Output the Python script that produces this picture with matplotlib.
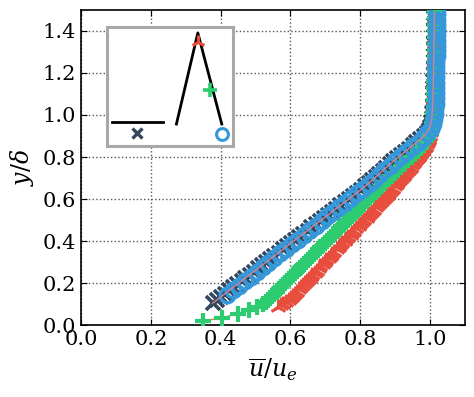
import matplotlib
matplotlib.use("Agg")
import matplotlib.pyplot as plt

plt.rcParams['font.family'] = ['DejaVu Serif']
plt.rcParams['mathtext.fontset'] = 'dejavuserif'

# ---- data ----
navy_y = [0.105, 0.120, 0.135, 0.150, 0.165, 0.180, 0.195, 0.210, 0.225, 0.240, 0.255, 0.270,
          0.285, 0.300, 0.315, 0.330, 0.345, 0.360, 0.375, 0.390, 0.405, 0.420, 0.435, 0.450,
          0.465, 0.480, 0.495, 0.510, 0.525, 0.540, 0.555, 0.570, 0.585, 0.600, 0.615, 0.630,
          0.645, 0.660, 0.675, 0.690, 0.705, 0.720, 0.735, 0.750, 0.765, 0.780, 0.795, 0.810,
          0.825, 0.840, 0.855, 0.870, 0.885, 0.900, 0.915, 0.930, 0.945, 0.965, 0.985,
          1.01, 1.04, 1.07, 1.10, 1.13, 1.16, 1.19, 1.22, 1.25, 1.28, 1.31, 1.34, 1.37, 1.40,
          1.43, 1.46, 1.49]
navy_x = [0.377, 0.389, 0.401, 0.412, 0.424, 0.436, 0.448, 0.460, 0.471, 0.483, 0.495, 0.507,
          0.519, 0.530, 0.542, 0.554, 0.566, 0.578, 0.589, 0.601, 0.613, 0.625, 0.637, 0.649,
          0.660, 0.672, 0.684, 0.696, 0.708, 0.719, 0.731, 0.743, 0.755, 0.767, 0.778, 0.790,
          0.802, 0.813, 0.824, 0.834, 0.844, 0.854, 0.864, 0.874, 0.884, 0.895, 0.906, 0.917,
          0.928, 0.939, 0.950, 0.961, 0.972, 0.982, 0.990, 0.996, 1.000, 1.003, 1.005,
          1.006, 1.007, 1.008, 1.008, 1.009, 1.009, 1.010, 1.010, 1.010, 1.011, 1.011, 1.011,
          1.012, 1.012, 1.012, 1.012, 1.013]

red_y = [0.086, 0.094, 0.102, 0.111, 0.120, 0.13, 0.14, 0.15, 0.16, 0.17, 0.18, 0.19, 0.20,
         0.21, 0.22, 0.23, 0.24, 0.25, 0.26, 0.27, 0.28, 0.29, 0.30, 0.31, 0.32, 0.33, 0.34,
         0.35, 0.36, 0.37, 0.38, 0.39, 0.40, 0.41, 0.42, 0.43, 0.44, 0.45, 0.46, 0.47, 0.48,
         0.49, 0.50, 0.51, 0.52, 0.53, 0.54, 0.55, 0.56, 0.57, 0.58, 0.59, 0.60, 0.61, 0.62,
         0.63, 0.64, 0.65, 0.66, 0.67, 0.68, 0.69, 0.70, 0.71, 0.72, 0.73, 0.74, 0.75, 0.76,
         0.77, 0.78, 0.79, 0.80, 0.81, 0.82, 0.83, 0.84, 0.85, 0.86, 0.87, 0.88, 0.89, 0.90,
         0.92, 0.95, 0.98, 1.01, 1.04, 1.07, 1.10, 1.13, 1.16, 1.19, 1.22, 1.25, 1.28, 1.31,
         1.34, 1.37, 1.40, 1.43, 1.46, 1.49]
red_x = [0.564, 0.572, 0.580, 0.588, 0.595, 0.601, 0.606, 0.612, 0.618, 0.624, 0.629, 0.635,
         0.641, 0.646, 0.652, 0.658, 0.663, 0.669, 0.675, 0.681, 0.686, 0.692, 0.698, 0.703,
         0.709, 0.715, 0.720, 0.726, 0.732, 0.738, 0.743, 0.749, 0.755, 0.760, 0.766, 0.772,
         0.777, 0.783, 0.789, 0.795, 0.800, 0.806, 0.812, 0.818, 0.823, 0.829, 0.835, 0.840,
         0.846, 0.851, 0.857, 0.862, 0.867, 0.873, 0.878, 0.883, 0.888, 0.894, 0.899, 0.904,
         0.909, 0.914, 0.919, 0.924, 0.929, 0.934, 0.939, 0.944, 0.949, 0.953, 0.958, 0.962,
         0.967, 0.971, 0.975, 0.979, 0.983, 0.987, 0.990, 0.993, 0.996, 0.998, 1.000,
         1.003, 1.005, 1.007, 1.008, 1.009, 1.009, 1.010, 1.010, 1.011, 1.011, 1.011, 1.012,
         1.012, 1.012, 1.012, 1.013, 1.013, 1.013, 1.013, 1.013]

green_y = [0.02, 0.035, 0.055, 0.07, 0.085, 0.10, 0.11, 0.12, 0.13, 0.14, 0.15, 0.16, 0.17,
           0.18, 0.19, 0.20, 0.21, 0.22, 0.23, 0.24, 0.25, 0.26, 0.27, 0.28, 0.29, 0.30, 0.31,
           0.32, 0.33, 0.34, 0.35, 0.36, 0.37, 0.38, 0.39, 0.40, 0.41, 0.42, 0.43, 0.44, 0.45,
           0.46, 0.47, 0.48, 0.49, 0.50, 0.51, 0.52, 0.53, 0.54, 0.55, 0.56, 0.575, 0.59, 0.605,
           0.62, 0.635, 0.65, 0.665, 0.68, 0.695, 0.71, 0.725, 0.74, 0.755, 0.77, 0.785, 0.80,
           0.815, 0.83, 0.845, 0.86, 0.875, 0.89, 0.905, 0.92, 0.94, 0.96, 0.98, 1.01, 1.04,
           1.07, 1.10, 1.13, 1.16, 1.19, 1.22, 1.25, 1.28, 1.31, 1.34, 1.37, 1.40, 1.43, 1.46,
           1.49]
green_x = [0.350, 0.405, 0.450, 0.480, 0.505, 0.522, 0.530, 0.536, 0.542, 0.548, 0.554, 0.560,
           0.566, 0.572, 0.578, 0.584, 0.590, 0.596, 0.602, 0.608, 0.614, 0.620, 0.626, 0.632,
           0.638, 0.644, 0.650, 0.656, 0.662, 0.668, 0.674, 0.680, 0.686, 0.692, 0.698, 0.704,
           0.710, 0.716, 0.722, 0.728, 0.734, 0.740, 0.746, 0.752, 0.758, 0.764, 0.770, 0.776,
           0.782, 0.788, 0.794, 0.800, 0.809, 0.818, 0.827, 0.836, 0.845, 0.854, 0.863, 0.872,
           0.881, 0.890, 0.899, 0.908, 0.918, 0.928, 0.937, 0.947, 0.956, 0.965, 0.973, 0.980,
           0.987, 0.993, 0.998, 1.001, 1.004, 1.006, 1.008, 1.009, 1.010, 1.011, 1.011, 1.012,
           1.012, 1.013, 1.013, 1.013, 1.014, 1.014, 1.014, 1.014, 1.015, 1.015, 1.015, 1.015]

blue_y = [0.143, 0.165, 0.187, 0.209, 0.231, 0.253, 0.275, 0.297, 0.319, 0.341, 0.363, 0.385,
          0.407, 0.429, 0.451, 0.473, 0.495, 0.517, 0.539, 0.561, 0.583, 0.605, 0.627, 0.649,
          0.671, 0.693, 0.715, 0.737, 0.759, 0.781, 0.803, 0.825, 0.847, 0.869, 0.891, 0.913,
          0.935, 0.957, 0.979, 1.004, 1.029, 1.054, 1.079, 1.104, 1.129, 1.154, 1.179, 1.204,
          1.229, 1.254, 1.279, 1.304, 1.329, 1.354, 1.379, 1.404, 1.429, 1.454, 1.479, 1.504]
blue_x = [0.418, 0.435, 0.452, 0.469, 0.486, 0.503, 0.520, 0.537, 0.554, 0.570, 0.587, 0.604,
          0.621, 0.638, 0.655, 0.672, 0.689, 0.706, 0.723, 0.740, 0.757, 0.774, 0.791, 0.808,
          0.824, 0.839, 0.854, 0.869, 0.884, 0.900, 0.916, 0.932, 0.948, 0.964, 0.979, 0.992,
          1.002, 1.008, 1.012, 1.014, 1.015, 1.016, 1.016, 1.017, 1.017, 1.017, 1.018, 1.018,
          1.018, 1.018, 1.019, 1.019, 1.019, 1.019, 1.019, 1.020, 1.020, 1.020, 1.020, 1.020]

# inset schematic
ins_line_x = [0.04, 0.44]
ins_line_y = [0.20, 0.20]
ins_v_x = [0.55, 0.72, 0.91]
ins_v_y = [0.185, 0.95, 0.185]
ins_navy = (0.24, 0.11)
ins_red = (0.72, 0.87)
ins_green = (0.82, 0.47)
ins_blue = (0.91, 0.10)

NAVY = '#34495e'
RED = '#e74c3c'
GREEN = '#2ecc71'
BLUE = '#3498db'

fig = plt.figure(figsize=(4.74, 3.97), dpi=100)
ax = fig.add_axes([0.171, 0.181, 0.810, 0.794])

ax.plot(navy_x, navy_y, linestyle='none', marker='x', ms=10, mew=2.6, color=NAVY, zorder=3)
ax.plot(red_x, red_y, linestyle='none', marker='2', ms=12, mew=2.2, color=RED, zorder=3)
ax.plot(green_x, green_y, color='#e67e22', lw=1, zorder=2.5)
ax.plot(green_x, green_y, linestyle='none', marker='+', ms=12, mew=3, color=GREEN, zorder=3)
ax.plot(blue_x, blue_y, linestyle='none', marker='o', ms=10.5, mew=2.4, mfc='none', mec=BLUE, zorder=3)
ax.plot(navy_x, navy_y, color='#d4828f', lw=1, zorder=4)

ax.set_xlim(0, 1.1)
ax.set_ylim(0, 1.5)
ax.set_xticks([0.0, 0.2, 0.4, 0.6, 0.8, 1.0])
ax.set_yticks([0.0, 0.2, 0.4, 0.6, 0.8, 1.0, 1.2, 1.4])
ax.tick_params(direction='in', top=True, right=True, labelsize=15, length=4)
ax.grid(True, linestyle=':', color='#555555', lw=1)
ax.set_xlabel(r'$\overline{u}/u_e$', fontsize=17, labelpad=5)
ax.set_ylabel(r'$y/\delta$', fontsize=17, labelpad=5)
for s in ax.spines.values():
    s.set_linewidth(1.2)

ins = ax.inset_axes([0.068, 0.568, 0.328, 0.378])
ins.set_xlim(0, 1)
ins.set_ylim(0, 1)
ins.set_xticks([])
ins.set_yticks([])
for s in ins.spines.values():
    s.set_color('#a8a8a8')
    s.set_linewidth(2.2)
ins.set_zorder(5)
ins.plot(ins_line_x, ins_line_y, color='black', lw=2)
ins.plot(ins_v_x, ins_v_y, color='black', lw=2)
ins.plot([ins_navy[0]], [ins_navy[1]], marker='x', ms=7.5, mew=2.4, color=NAVY)
ins.plot([ins_red[0]], [ins_red[1]], marker='2', ms=10, mew=2.2, color=RED)
ins.plot([ins_green[0]], [ins_green[1]], marker='+', ms=10, mew=2.6, color=GREEN)
ins.plot([ins_blue[0]], [ins_blue[1]], marker='o', ms=8.5, mew=2.2, mfc='none', mec=BLUE)

fig.savefig('out.png', dpi=100)
